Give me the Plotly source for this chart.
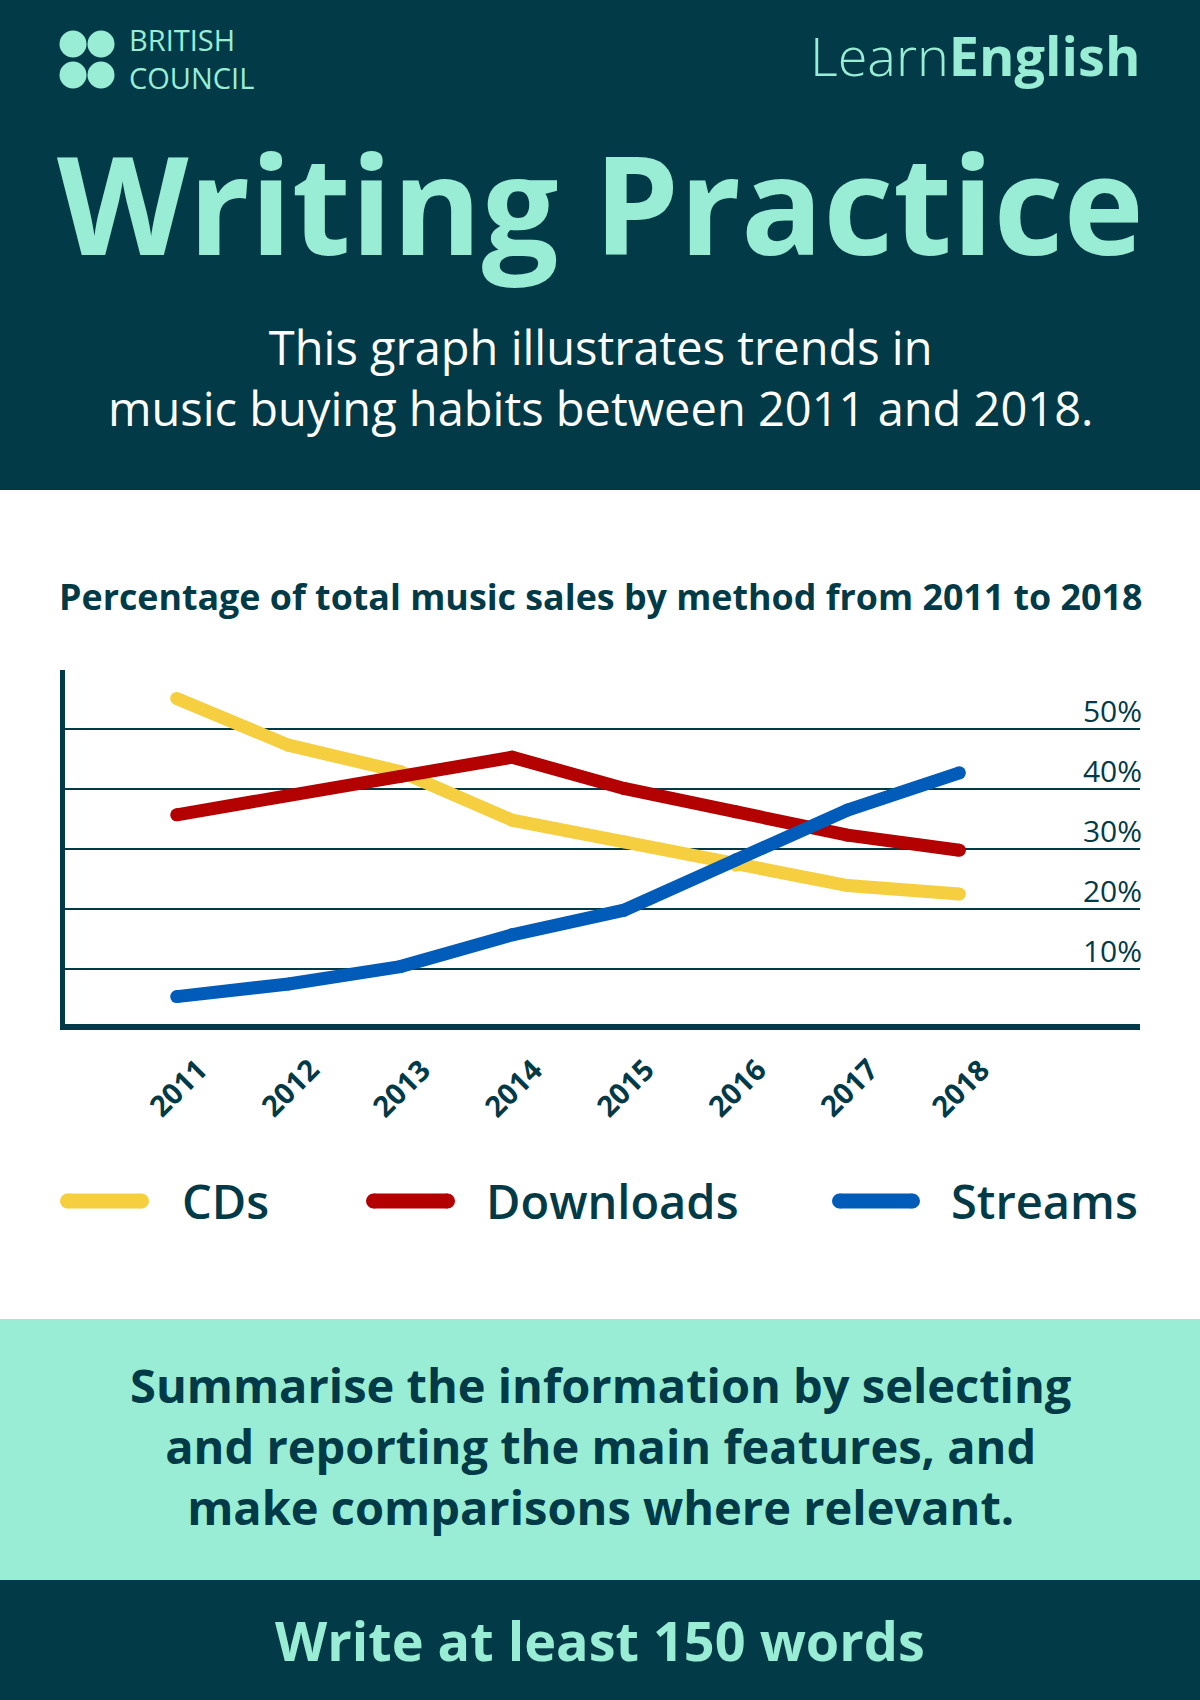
import plotly.graph_objects as go

# ---------------- data ----------------
years = [2011, 2012, 2013, 2014, 2015, 2016, 2017, 2018]
cds = [55.1, 47.3, 42.9, 34.8, 31.2, 27.3, 23.9, 22.5]
downloads = [35.7, 39.0, 42.1, 45.3, 40.1, 36.2, 32.3, 29.8]
streams = [5.4, 7.5, 10.4, 15.7, 19.8, 28.2, 36.5, 42.7]
series_names = ["CDs", "Downloads", "Streams"]
y_ticks = [10, 20, 30, 40, 50]
y_tick_labels = ["10%", "20%", "30%", "40%", "50%"]
year_labels = [str(y) for y in years]

# ---------------- style ----------------
W, H = 1200, 1700
DARK = "#023A47"
MINT = "#99EDD4"
YELLOW = "#F5CF40"
RED = "#B30000"
BLUE = "#005CB8"
FONT = "Open Sans"
colors = [YELLOW, RED, BLUE]


def px(x):
    return x / W


def py(y):
    return 1 - y / H


fig = go.Figure()

for vals, name, col in zip([cds, downloads, streams], series_names, colors):
    fig.add_trace(go.Scatter(
        x=years, y=vals, name=name, mode="lines+markers",
        line=dict(color=col, width=13),
        marker=dict(color=col, size=13, line=dict(width=0)),
        showlegend=False, hoverinfo="skip", cliponaxis=False,
    ))

# helper trace for right-side tick axis
fig.add_trace(go.Scatter(x=[], y=[], xaxis="x", yaxis="y2", showlegend=False, hoverinfo="skip"))

plot_left, plot_right = 65, 1140
plot_top, plot_bottom = 670, 1024

shapes = []
# background bands
shapes.append(dict(type="rect", xref="paper", yref="paper", x0=0, x1=1, y0=py(490), y1=1,
                   fillcolor=DARK, line=dict(width=0), layer="below"))
shapes.append(dict(type="rect", xref="paper", yref="paper", x0=0, x1=1, y0=py(1580), y1=py(1319),
                   fillcolor=MINT, line=dict(width=0), layer="below"))
shapes.append(dict(type="rect", xref="paper", yref="paper", x0=0, x1=1, y0=0, y1=py(1580),
                   fillcolor=DARK, line=dict(width=0), layer="below"))

# British Council logo dots
r = 13.5
for cx in (73, 101):
    for cy in (44, 75):
        shapes.append(dict(type="circle", xref="paper", yref="paper",
                           x0=px(cx - r), x1=px(cx + r), y0=py(cy + r), y1=py(cy - r),
                           fillcolor=MINT, line=dict(width=0)))

# legend swatches (rounded bars)
legend_items = [(60, 149, 180), (366, 455, 484), (832, 920, 949)]
ly = 1201
th = 15
for (x0, x1, tx), col in zip(legend_items, colors):
    shapes.append(dict(type="line", xref="paper", yref="paper",
                       x0=px(x0 + th / 2), x1=px(x1 - th / 2), y0=py(ly), y1=py(ly),
                       line=dict(color=col, width=th)))
    for cx in (x0 + th / 2, x1 - th / 2):
        shapes.append(dict(type="circle", xref="paper", yref="paper",
                           x0=px(cx - th / 2), x1=px(cx + th / 2),
                           y0=py(ly + th / 2), y1=py(ly - th / 2),
                           fillcolor=col, line=dict(width=0)))

annotations = []


def ann(text, x, y, size, color, xanchor="center", bold=False, weight=None, **kw):
    f = dict(family=FONT, size=size, color=color)
    if weight is not None:
        f["weight"] = weight
    elif bold:
        f["weight"] = "bold"
    annotations.append(dict(text=text, x=px(x), y=py(y), xref="paper", yref="paper",
                            xanchor=xanchor, yanchor="middle", showarrow=False,
                            font=f, **kw))


# header
ann("BRITISH<br>COUNCIL", 127, 59, 29, MINT, xanchor="left", weight=500, align="left")
ann("Learn<b>English</b>", 1142, 55, 54, MINT, xanchor="right", weight=300)
ann("Writing Practice", 600, 203, 136, MINT, bold=True)
ann("This graph illustrates trends in<br>music buying habits between 2011 and 2018.",
    600, 377, 47, "white")

# chart title
ann("Percentage of total music sales by method from 2011 to 2018", 600, 596, 35.8, DARK, bold=True)

# legend labels
for (x0, x1, tx), name in zip(legend_items, series_names):
    ann(name, tx, 1201, 47, DARK, xanchor="left", weight=600)

# bottom text
ann("Summarise the information by selecting<br>and reporting the main features, and<br>"
    "make comparisons where relevant.", 600, 1446, 47, DARK, bold=True)
ann("Write at least 150 words", 600, 1640, 54, MINT, bold=True)

# rotated year labels centred on each year
for yr, lab in zip(years, year_labels):
    annotations.append(dict(text=lab, x=yr, xref="x", y=py(plot_bottom), yref="paper",
                            yshift=-(1087 - plot_bottom), xanchor="center", yanchor="middle",
                            textangle=-45, showarrow=False,
                            font=dict(family=FONT, size=29, color=DARK, weight="bold")))

y_lo = (1029 - plot_bottom) / 6.0
y_hi = (1029 - plot_top) / 6.0
x_lo = 2011 - (176.7 - plot_left) / 111.8
x_hi = 2018 + (plot_right - 959.4) / 111.8

fig.update_layout(
    width=W, height=H,
    margin=dict(l=0, r=0, t=0, b=0),
    paper_bgcolor="white", plot_bgcolor="rgba(0,0,0,0)",
    showlegend=False,
    shapes=shapes,
    annotations=annotations,
    xaxis=dict(domain=[px(plot_left), px(plot_right)], range=[x_lo, x_hi],
               showgrid=False, zeroline=False, showticklabels=False, ticks="",
               showline=True, linecolor=DARK, linewidth=6, fixedrange=True),
    yaxis=dict(domain=[py(plot_bottom), py(plot_top)], range=[y_lo, y_hi],
               tickmode="array", tickvals=y_ticks, showticklabels=False, ticks="",
               showgrid=True, gridcolor=DARK, gridwidth=2, zeroline=False,
               showline=True, linecolor=DARK, linewidth=5, fixedrange=True),
    yaxis2=dict(overlaying="y", side="right", range=[y_lo, y_hi],
                tickmode="array", tickvals=y_ticks, ticktext=y_tick_labels, ticks="",
                ticklabelposition="inside top", ticklabelstandoff=-5, ticklabelshift=3,
                showgrid=False, zeroline=False, showline=False,
                tickfont=dict(family=FONT, size=30, color=DARK), fixedrange=True),
)

fig.write_html("out.html", config=dict(displayModeBar=False, staticPlot=True),
               post_script="document.body.style.margin='0';document.body.style.padding='0';")
